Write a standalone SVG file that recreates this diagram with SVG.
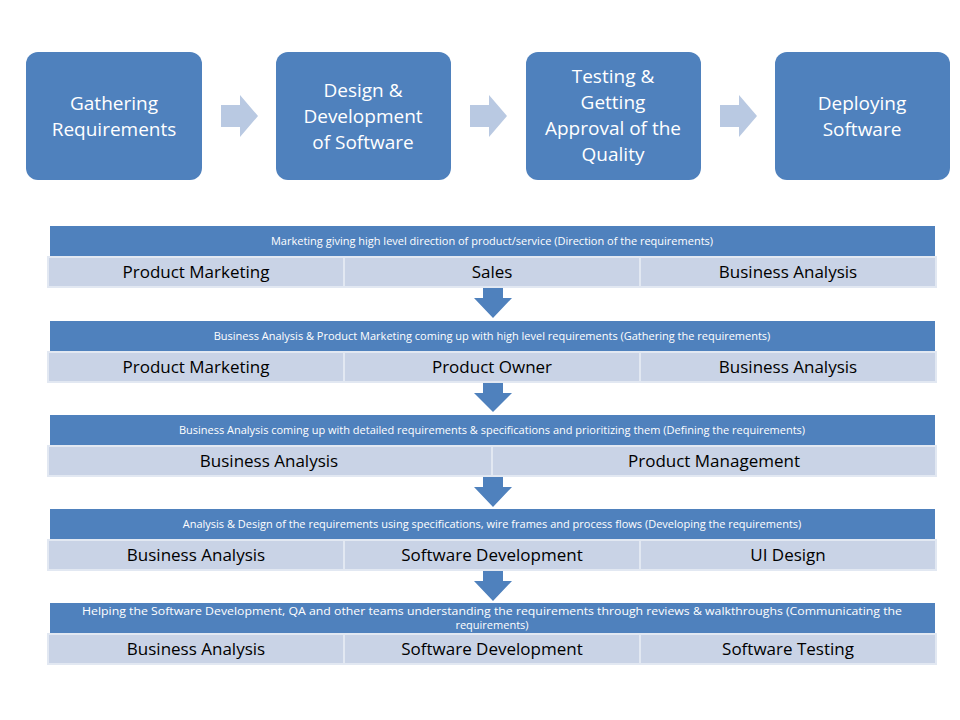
<svg xmlns="http://www.w3.org/2000/svg" width="960" height="720" viewBox="0 0 960 720">
<style>
.box{fill:#4f81bd;}
.t{font-family:"Open Sans","Liberation Sans",sans-serif;fill:#fff;font-size:19px;text-anchor:middle;}
.hd{fill:#4f81bd;}
.h{font-family:"Open Sans","Liberation Sans",sans-serif;fill:#fff;font-size:11px;text-anchor:middle;}
.cell{fill:#c9d3e6;stroke:#e2e8f2;stroke-width:2;}
.c{font-family:"Open Sans","Liberation Sans",sans-serif;fill:#000;font-size:17px;text-anchor:middle;}
.ra{fill:#b9c9e2;}
.da{fill:#4f81bd;}
</style>
<rect width="960" height="720" fill="#fff"/>
<g id="n1"><rect class="box" x="26" y="52" width="176" height="128" rx="12"/><text class="t" x="114" y="110">Gathering</text><text class="t" x="114" y="136">Requirements</text></g>
<g id="n2"><rect class="box" x="276" y="52" width="175" height="128" rx="12"/><text class="t" x="363" y="97">Design &amp;</text><text class="t" x="363" y="123">Development</text><text class="t" x="363" y="149">of Software</text></g>
<g id="n3"><rect class="box" x="526" y="52" width="175" height="128" rx="12"/><text class="t" x="613" y="83">Testing &amp;</text><text class="t" x="613" y="109">Getting</text><text class="t" x="613" y="135">Approval of the</text><text class="t" x="613" y="161">Quality</text></g>
<g id="n4"><rect class="box" x="775" y="52" width="175" height="128" rx="12"/><text class="t" x="862" y="110">Deploying</text><text class="t" x="862" y="136">Software</text></g>
<g id="connectors">
<polygon class="ra" points="221,105 240,105 240,95 258,116 240,137 240,127 221,127"/>
<polygon class="ra" points="470,105 489,105 489,95 507,116 489,137 489,127 470,127"/>
<polygon class="ra" points="720,105 739,105 739,95 757,116 739,137 739,127 720,127"/>
<polygon class="da" points="483,288 503,288 503,298 512,298 493,318 474,298 483,298"/>
<polygon class="da" points="483,383 503,383 503,393 512,393 493,412 474,393 483,393"/>
<polygon class="da" points="483,477 503,477 503,487 512,487 493,507 474,487 483,487"/>
<polygon class="da" points="483,571 503,571 503,581 512,581 493,601 474,581 483,581"/>
</g>
<g id="r1"><rect class="hd" x="50" y="226" width="885" height="31"/><text class="h" x="492" y="245">Marketing giving high level direction of product/service (Direction of the requirements)</text>
<rect class="cell" x="48" y="257" width="296" height="30"/><rect class="cell" x="344" y="257" width="296" height="30"/><rect class="cell" x="640" y="257" width="296" height="30"/>
<text class="c" x="196" y="278">Product Marketing</text><text class="c" x="492" y="278">Sales</text><text class="c" x="788" y="278">Business Analysis</text></g>
<g id="r2"><rect class="hd" x="50" y="321" width="885" height="31"/><text class="h" x="492" y="340">Business Analysis  &amp; Product  Marketing coming up with high level requirements (Gathering the requirements)</text>
<rect class="cell" x="48" y="352" width="296" height="30"/><rect class="cell" x="344" y="352" width="296" height="30"/><rect class="cell" x="640" y="352" width="296" height="30"/>
<text class="c" x="196" y="373">Product Marketing</text><text class="c" x="492" y="373">Product Owner</text><text class="c" x="788" y="373">Business Analysis</text></g>
<g id="r3"><rect class="hd" x="50" y="415" width="885" height="31"/><text class="h" x="492" y="434">Business Analysis coming up with detailed requirements &amp; specifications and prioritizing them (Defining the requirements)</text>
<rect class="cell" x="48" y="446" width="444" height="30"/><rect class="cell" x="492" y="446" width="444" height="30"/>
<text class="c" x="269" y="467">Business Analysis</text><text class="c" x="714" y="467">Product Management</text></g>
<g id="r4"><rect class="hd" x="50" y="509" width="885" height="31"/><text class="h" x="492" y="528">Analysis &amp; Design of the requirements  using  specifications, wire frames and process flows (Developing  the requirements)</text>
<rect class="cell" x="48" y="540" width="296" height="30"/><rect class="cell" x="344" y="540" width="296" height="30"/><rect class="cell" x="640" y="540" width="296" height="30"/>
<text class="c" x="196" y="561">Business Analysis</text><text class="c" x="492" y="561">Software Development</text><text class="c" x="788" y="561">UI Design</text></g>
<g id="r5"><rect class="hd" x="50" y="603" width="885" height="31"/><text class="h" x="492" y="615" textLength="820" lengthAdjust="spacingAndGlyphs">Helping the Software Development, QA and other teams understanding the requirements through reviews &amp; walkthroughs (Communicating the</text><text class="h" x="492" y="629">requirements)</text>
<rect class="cell" x="48" y="634" width="296" height="30"/><rect class="cell" x="344" y="634" width="296" height="30"/><rect class="cell" x="640" y="634" width="296" height="30"/>
<text class="c" x="196" y="655">Business Analysis</text><text class="c" x="492" y="655">Software Development</text><text class="c" x="788" y="655">Software Testing</text></g>
</svg>
